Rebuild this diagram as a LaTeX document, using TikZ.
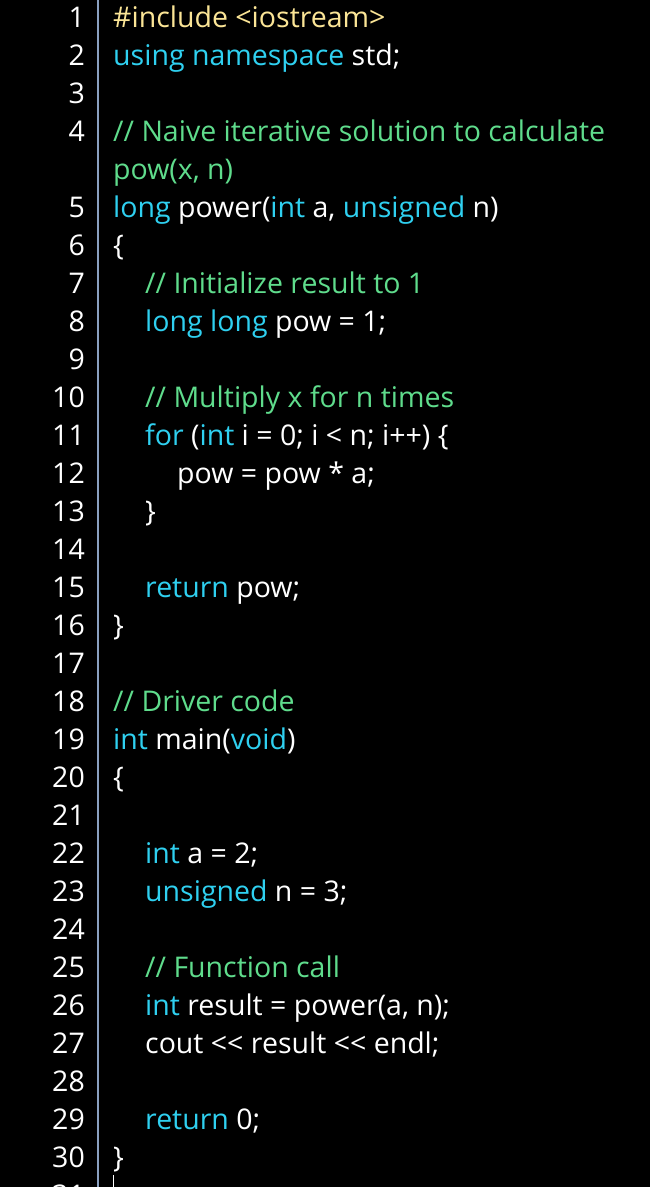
\documentclass[tikz,border=0pt]{standalone}
\usepackage{fontspec}
\setmainfont{Open Sans}
\definecolor{kw}{HTML}{2FD0F0}
\definecolor{cm}{HTML}{5FDC8C}
\definecolor{pp}{HTML}{FBE596}
\definecolor{sep}{HTML}{8AA0C0}
\newcommand{\kwd}[1]{\textcolor{kw}{#1}}
\newcommand{\cmt}[1]{\textcolor{cm}{#1}}
\begin{document}
\begin{tikzpicture}[x=1pt,y=-1pt,
  num/.style={anchor=base east,text=white,inner sep=0,font=\fontsize{28.5}{28.5}\selectfont},
  code/.style={anchor=base west,text=white,inner sep=0,font=\fontsize{28.5}{28.5}\selectfont}]
\fill[black] (0,0) rectangle (650,1187);
\useasboundingbox (0,0) rectangle (650,1187);
\draw[sep,line width=1.5pt] (98,0) -- (98,1187);
\def\base{27}\def\pitch{38}
\foreach \n/\r in {1/0,2/1,3/2,4/3}{\node[num] (n\n) at (85,{\base+\r*\pitch}) {\n};}
\foreach \n in {5,...,31}{\node[num] (n\n) at (85,{\base+\n*\pitch}) {\n};}
\newcommand{\codeline}[3]{\node[code] (c#1) at (#2,{\base+#1*\pitch}) {#3};}
\node[code] (c0) at (113,{\base}) {\textcolor{pp}{\#include <iostream>}};
\codeline{1}{113}{\kwd{using namespace} std;}
\codeline{3}{113}{\cmt{// Naive iterative solution to calculate}}
\codeline{4}{113}{\cmt{pow(x, n)}}
\codeline{5}{113}{\kwd{long} power(\kwd{int} a, \kwd{unsigned} n)}
\codeline{6}{113}{\{}
\codeline{7}{145}{\cmt{// Initialize result to 1}}
\codeline{8}{145}{\kwd{long long} pow = 1;}
\codeline{10}{145}{\cmt{// Multiply x for n times}}
\codeline{11}{145}{\kwd{for} (\kwd{int} i = 0; i < n; i++) \{}
\codeline{12}{177}{pow = pow * a;}
\codeline{13}{145}{\}}
\codeline{15}{145}{\kwd{return} pow;}
\codeline{16}{113}{\}}
\codeline{18}{113}{\cmt{// Driver code}}
\codeline{19}{113}{\kwd{int} main(\kwd{void})}
\codeline{20}{113}{\{}
\codeline{22}{145}{\kwd{int} a = 2;}
\codeline{23}{145}{\kwd{unsigned} n = 3;}
\codeline{25}{145}{\cmt{// Function call}}
\codeline{26}{145}{\kwd{int} result = power(a, n);}
\codeline{27}{145}{cout {<}{<} result {<}{<} endl;}
\codeline{29}{145}{\kwd{return} 0;}
\codeline{30}{113}{\}}
\coordinate (cur) at (113,1175);
\draw[white,line width=1pt] (cur) -- ++(0,12);
\end{tikzpicture}
\end{document}
